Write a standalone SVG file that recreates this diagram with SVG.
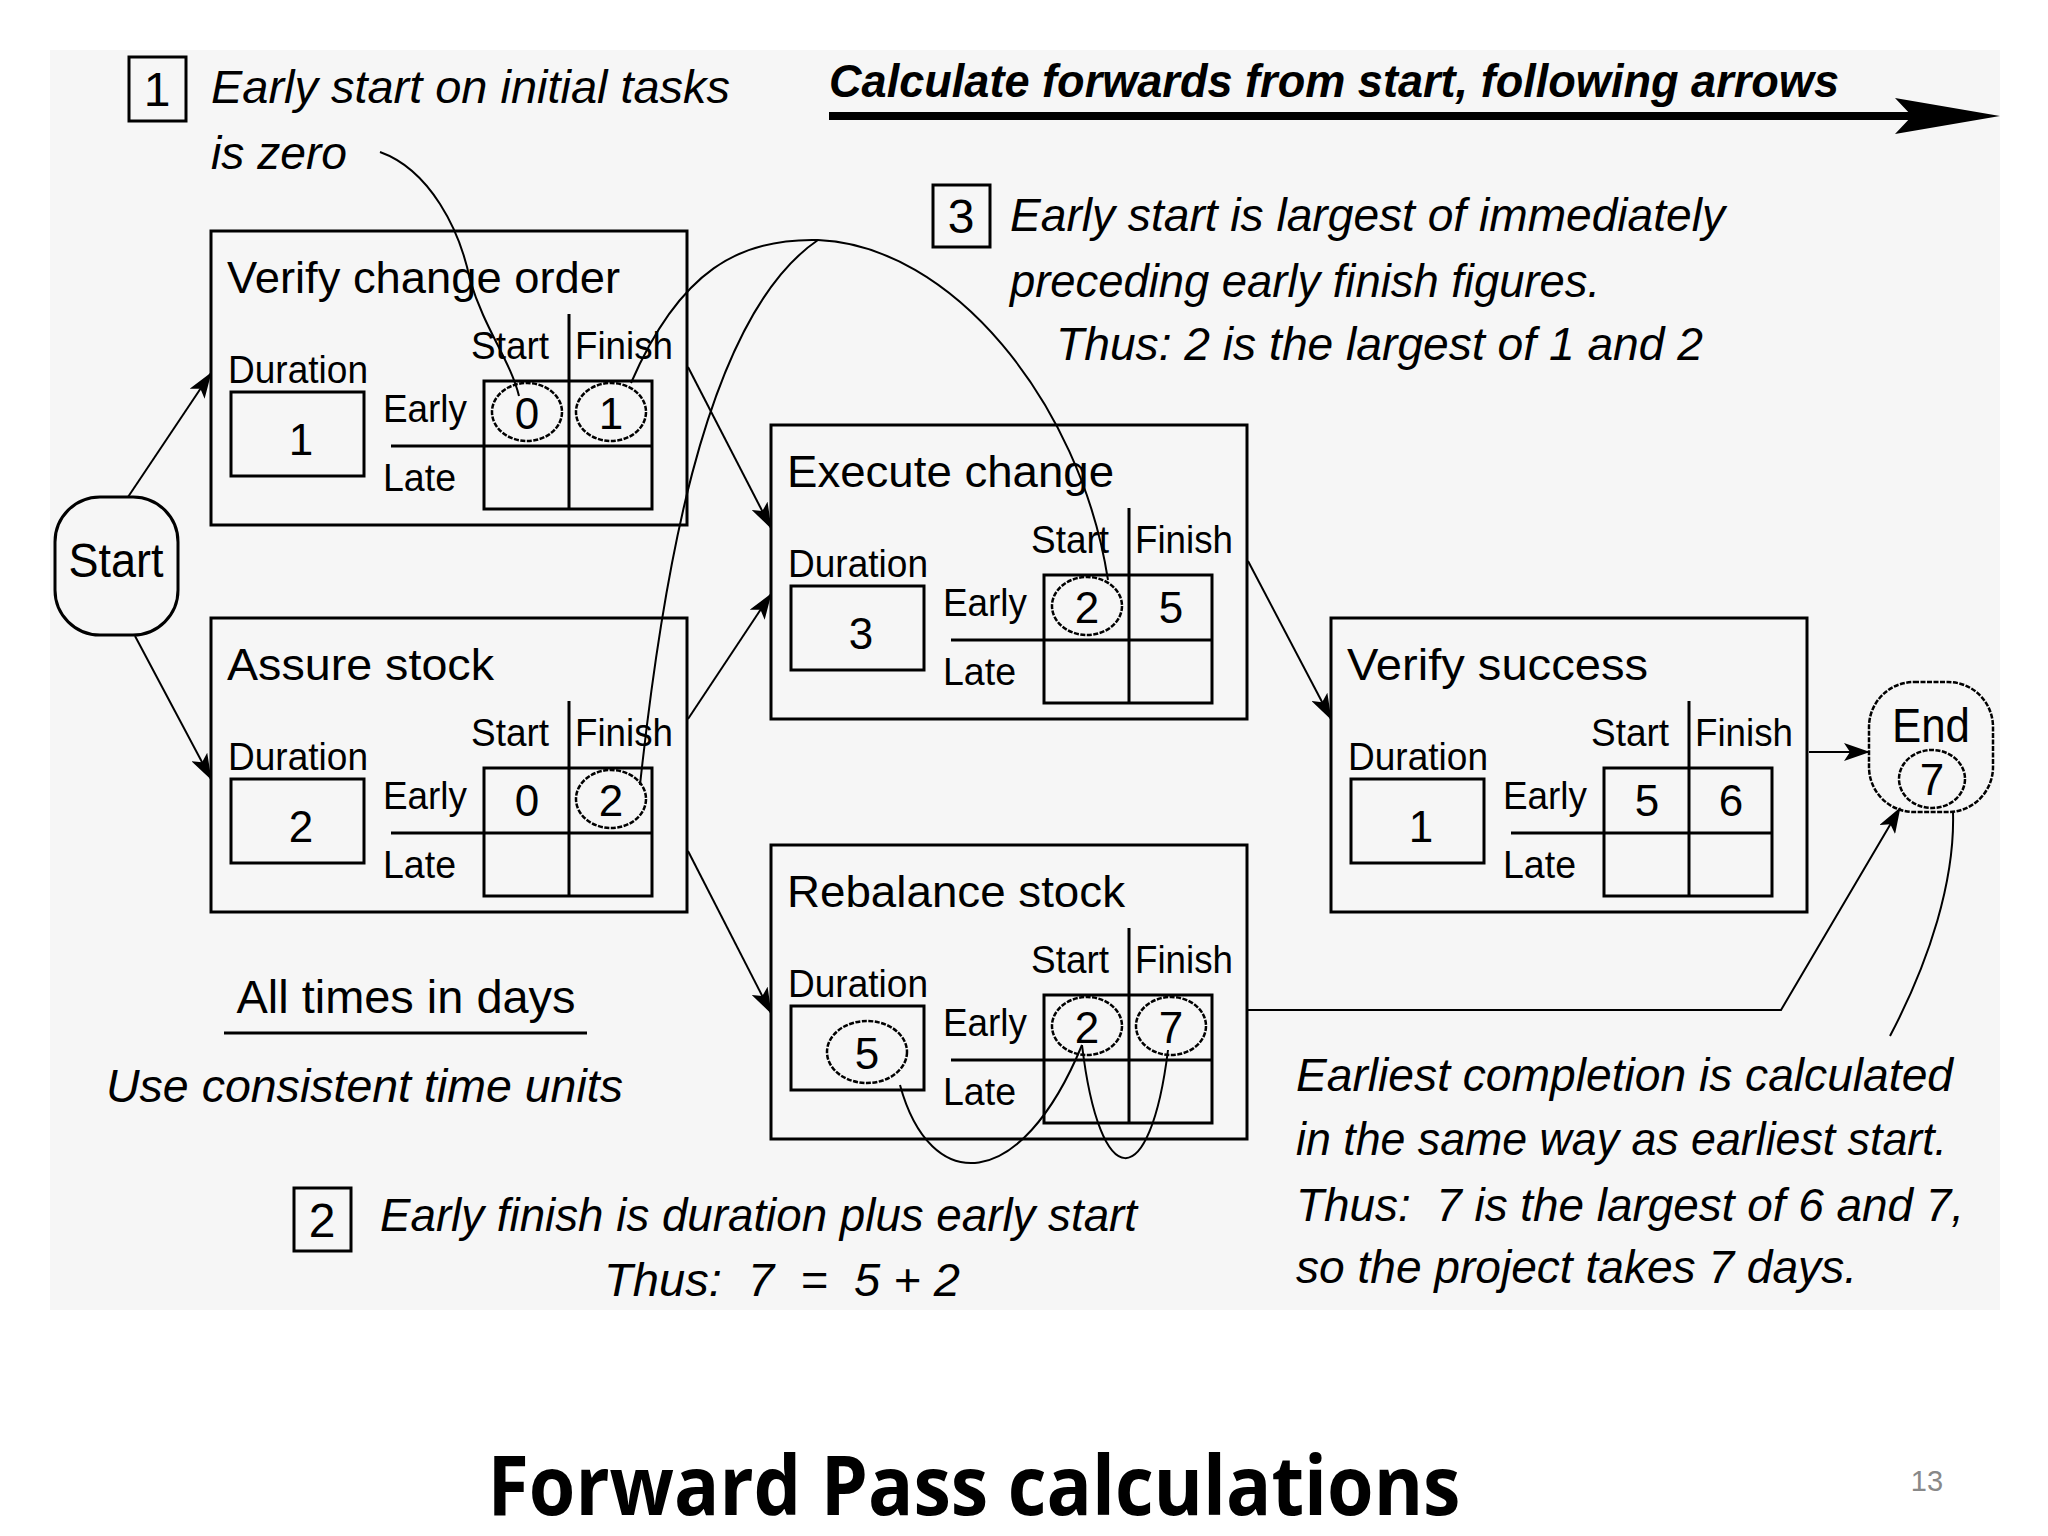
<svg xmlns="http://www.w3.org/2000/svg" width="2048" height="1536" viewBox="0 0 2048 1536">
<style>
text{font-family:"Liberation Sans",Arial,sans-serif;fill:#000}
.t{font-size:44px}
.l{font-size:38px}
.n{font-size:44px;text-anchor:middle}
.i{font-size:46px;font-style:italic}
.b{fill:none;stroke:#000;stroke-width:3}
.c{fill:none;stroke:#000;stroke-width:2}
.e{fill:none;stroke:#000;stroke-width:2.5;stroke-dasharray:5 1.5}
.a{fill:none;stroke:#000;stroke-width:2;marker-end:url(#ah)}
.th{fill:none;stroke:#000;stroke-width:2}
</style>
<defs>
<marker id="ah" markerWidth="26" markerHeight="18" refX="25" refY="9" orient="auto" markerUnits="userSpaceOnUse" viewBox="0 0 26 18"><path d="M0,0 L26,9 L0,18 L6,9 z" fill="#000"/></marker>
<g id="grid">
<rect class="b" x="273" y="150" width="168" height="128"/>
<line class="b" x1="273" y1="215" x2="441" y2="215"/>
<line class="b" x1="358" y1="83" x2="358" y2="278"/>
<line class="b" x1="180" y1="215" x2="273" y2="215"/>
<rect class="b" x="20" y="161" width="133" height="84"/>
<text class="l" x="17" y="152" textLength="140" lengthAdjust="spacingAndGlyphs">Duration</text>
<text class="l" x="260" y="128" textLength="78" lengthAdjust="spacingAndGlyphs">Start</text>
<text class="l" x="364" y="128" textLength="98" lengthAdjust="spacingAndGlyphs">Finish</text>
<text class="l" x="172" y="191" textLength="84" lengthAdjust="spacingAndGlyphs">Early</text>
<text class="l" x="172" y="260" textLength="73" lengthAdjust="spacingAndGlyphs">Late</text>
</g>
</defs>
<rect width="2048" height="1536" fill="#fff"/>
<rect x="50" y="50" width="1950" height="1260" fill="#f6f6f6"/>

<g id="note1">
<rect class="b" x="129" y="57" width="57" height="64"/>
<text class="n" x="157" y="106" style="font-size:48px">1</text>
<text class="i" x="211" y="103" textLength="519" lengthAdjust="spacingAndGlyphs">Early start on initial tasks</text>
<text class="i" x="211" y="169" textLength="136" lengthAdjust="spacingAndGlyphs">is zero</text>
</g>
<g id="header">
<text x="829" y="97" style="font-size:46px;font-weight:bold;font-style:italic" textLength="1010" lengthAdjust="spacingAndGlyphs">Calculate forwards from start, following arrows</text>
<line x1="829" y1="116" x2="1920" y2="116" stroke="#000" stroke-width="8"/>
<path d="M1895,98 L2000,116 L1895,134 L1912,116 z" fill="#000"/>
</g>
<g id="note3">
<rect class="b" x="933" y="185" width="57" height="62"/>
<text class="n" x="961" y="233" style="font-size:48px">3</text>
<text class="i" x="1010" y="231" textLength="715" lengthAdjust="spacingAndGlyphs">Early start is largest of immediately</text>
<text class="i" x="1010" y="297" textLength="590" lengthAdjust="spacingAndGlyphs">preceding early finish figures.</text>
<text class="i" x="1056" y="360" textLength="647" lengthAdjust="spacingAndGlyphs">Thus: 2 is the largest of 1 and 2</text>
</g>

<g id="start">
<rect class="b" x="55" y="497" width="123" height="138" rx="45"/>
<text x="116" y="577" class="n" style="font-size:48px" textLength="95" lengthAdjust="spacingAndGlyphs">Start</text>
</g>
<g id="end">
<rect class="e" x="1869" y="682" width="124" height="130" rx="45"/>
<text x="1931" y="742" class="n" style="font-size:48px" textLength="78" lengthAdjust="spacingAndGlyphs">End</text>
<ellipse class="e" cx="1932" cy="779" rx="33" ry="29"/>
<text x="1932" y="795" class="n">7</text>
</g>

<g id="verify-change-order" transform="translate(211,231)">
<rect class="b" x="0" y="0" width="476" height="294"/>
<text class="t" x="16" y="62" textLength="393" lengthAdjust="spacingAndGlyphs">Verify change order</text>
<use href="#grid"/>
<text class="n" x="90" y="224">1</text>
<text class="n" x="316" y="198">0</text><ellipse class="e" cx="316" cy="181" rx="35" ry="29"/>
<text class="n" x="400" y="198">1</text><ellipse class="e" cx="400" cy="181" rx="35" ry="29"/>
</g>
<g id="assure-stock" transform="translate(211,618)">
<rect class="b" x="0" y="0" width="476" height="294"/>
<text class="t" x="16" y="62" textLength="267" lengthAdjust="spacingAndGlyphs">Assure stock</text>
<use href="#grid"/>
<text class="n" x="90" y="224">2</text>
<text class="n" x="316" y="198">0</text>
<text class="n" x="400" y="198">2</text><ellipse class="e" cx="400" cy="181" rx="35" ry="29"/>
</g>
<g id="execute-change" transform="translate(771,425)">
<rect class="b" x="0" y="0" width="476" height="294"/>
<text class="t" x="16" y="62" textLength="327" lengthAdjust="spacingAndGlyphs">Execute change</text>
<use href="#grid"/>
<text class="n" x="90" y="224">3</text>
<text class="n" x="316" y="198">2</text><ellipse class="e" cx="316" cy="181" rx="35" ry="29"/>
<text class="n" x="400" y="198">5</text>
</g>
<g id="rebalance-stock" transform="translate(771,845)">
<rect class="b" x="0" y="0" width="476" height="294"/>
<text class="t" x="16" y="62" textLength="338" lengthAdjust="spacingAndGlyphs">Rebalance stock</text>
<use href="#grid"/>
<text class="n" x="96" y="224">5</text><ellipse class="e" cx="96" cy="207" rx="40" ry="31"/>
<text class="n" x="316" y="198">2</text><ellipse class="e" cx="316" cy="181" rx="35" ry="29"/>
<text class="n" x="400" y="198">7</text><ellipse class="e" cx="400" cy="181" rx="35" ry="29"/>
</g>
<g id="verify-success" transform="translate(1331,618)">
<rect class="b" x="0" y="0" width="476" height="294"/>
<text class="t" x="16" y="62" textLength="301" lengthAdjust="spacingAndGlyphs">Verify success</text>
<use href="#grid"/>
<text class="n" x="90" y="224">1</text>
<text class="n" x="316" y="198">5</text>
<text class="n" x="400" y="198">6</text>
</g>

<g id="connectors">
<line class="a" x1="128" y1="497" x2="211" y2="373"/>
<line class="a" x1="135" y1="636" x2="211" y2="779"/>
<line class="a" x1="688" y1="367" x2="771" y2="528"/>
<line class="a" x1="688" y1="719" x2="771" y2="594"/>
<line class="a" x1="688" y1="851" x2="771" y2="1013"/>
<line class="a" x1="1248" y1="561" x2="1331" y2="719"/>
<line class="a" x1="1809" y1="752" x2="1869" y2="752"/>
<path class="a" d="M1248,1010 L1781,1010 L1900,808"/>
<path class="th" d="M380,152 C430,170 460,230 470,280 C485,330 510,360 519,396"/>
<path class="th" d="M631,383 C680,270 740,238 818,240 C950,245 1080,400 1108,580"/>
<path class="th" d="M640,785 C660,600 700,320 818,240"/>
<path class="th" d="M900,1085 C930,1195 1020,1195 1082,1045"/>
<path class="th" d="M1082,1045 C1100,1195 1150,1195 1168,1050"/>
<path class="th" d="M1890,1036 C1930,960 1955,880 1953,812"/>
</g>

<g id="notes-bottom">
<text x="406" y="1013" class="n" style="font-size:46px" textLength="339" lengthAdjust="spacingAndGlyphs">All times in days</text>
<line class="b" x1="224" y1="1033" x2="587" y2="1033"/>
<text class="i" x="106" y="1102" textLength="517" lengthAdjust="spacingAndGlyphs">Use consistent time units</text>
<rect class="b" x="294" y="1188" width="57" height="63"/>
<text class="n" x="322" y="1237" style="font-size:48px">2</text>
<text class="i" x="380" y="1231" textLength="757" lengthAdjust="spacingAndGlyphs">Early finish is duration plus early start</text>
<text class="i" x="604" y="1296" xml:space="preserve" style="white-space:pre" textLength="356" lengthAdjust="spacingAndGlyphs">Thus:  7  =  5 + 2</text>
<text class="i" x="1296" y="1091" textLength="657" lengthAdjust="spacingAndGlyphs">Earliest completion is calculated</text>
<text class="i" x="1296" y="1155" textLength="651" lengthAdjust="spacingAndGlyphs">in the same way as earliest start.</text>
<text class="i" x="1296" y="1221" xml:space="preserve" style="white-space:pre" textLength="668" lengthAdjust="spacingAndGlyphs">Thus:  7 is the largest of 6 and 7,</text>
<text class="i" x="1296" y="1283" textLength="561" lengthAdjust="spacingAndGlyphs">so the project takes 7 days.</text>
</g>
<text x="974" y="1515" style="font-family:'Open Sans','Liberation Sans',sans-serif;font-size:82px;font-weight:bold" text-anchor="middle" textLength="973" lengthAdjust="spacingAndGlyphs">Forward Pass calculations</text>
<text x="1927" y="1491" style="font-size:29px;fill:#888" text-anchor="middle">13</text>
</svg>
